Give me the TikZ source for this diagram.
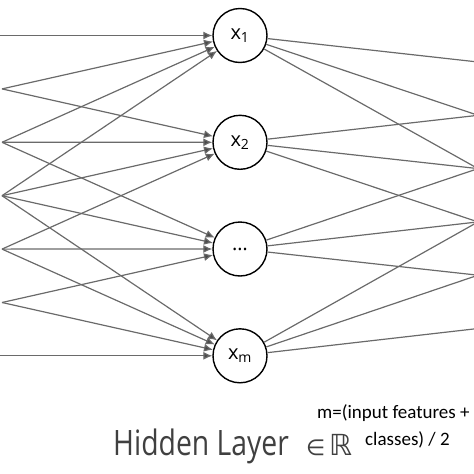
\documentclass[tikz,border=0pt]{standalone}
\usepackage{fontspec}
\usepackage{graphicx}
\setmainfont{Open Sans}
\newfontfamily\carl{Carlito}
\newfontfamily\dejavu{DejaVu Sans}
\usetikzlibrary{arrows.meta}
\definecolor{edge}{HTML}{6A6A6A}
\definecolor{tip}{HTML}{4A4A4A}
\begin{document}
\begin{tikzpicture}[x=1pt,y=-1pt,
  hid/.style={circle,draw=black,line width=1.4pt,minimum size=54pt,inner sep=0pt,font=\fontsize{20}{20}\selectfont},
  inedge/.style={draw=edge,line width=1.2pt,-{Latex[length=9pt,width=8pt,fill=tip]}},
  outedge/.style={draw=edge,line width=1.2pt},
  lbl/.style={anchor=base west,inner sep=0pt}]
\useasboundingbox (0,0) rectangle (474,474);
% inputs
\foreach \i in {0,...,6} {
  \coordinate (in\i) at (2,{35.5+53.4*\i});
}
\coordinate (in0) at (-2,35.5);
\coordinate (in6) at (-2,355.8);
% outputs
\foreach \j in {0,...,5} {
  \coordinate (out\j) at (478,{62+53.3*\j});
}
% hidden nodes
\node[hid] (h0) at (240,35.5) {x\textsubscript{1}};
\node[hid] (h1) at (240,142.3) {x\textsubscript{2}};
\node[hid] (h2) at (240,249) {…};
\node[hid] (h3) at (240,355.8) {x\textsubscript{m}};
% input edges
\foreach \h in {0,...,3} {
  \foreach \k in {0,...,3} {
    \pgfmathtruncatemacro{\src}{\h+\k}
    \draw[inedge] (in\src) -- (h\h);
  }
}
% output edges
\foreach \h in {0,...,3} {
  \foreach \k in {0,...,2} {
    \pgfmathtruncatemacro{\dst}{\h+\k}
    \draw[outedge] (h\h) -- (out\dst);
  }
}
% labels
\node[lbl,text=black!75,font=\fontsize{35}{35}\selectfont] (hl) at (113,455) {\scalebox{0.81}[1]{Hidden Layer}};
\node[lbl,text=black!75,font=\dejavu\fontsize{22}{22}\selectfont] (el) at (306,455) {∈};
\node[lbl,text=black!75,font=\dejavu\fontsize{29}{29}\selectfont] (rl) at (329,455) {ℝ};
\node[lbl,font=\carl\fontsize{19}{19}\selectfont] (m1) at (317,418) {m=(input features +};
\node[lbl,font=\carl\fontsize{19}{19}\selectfont] (m2) at (365,445) {classes) / 2};
\end{tikzpicture}
\end{document}
